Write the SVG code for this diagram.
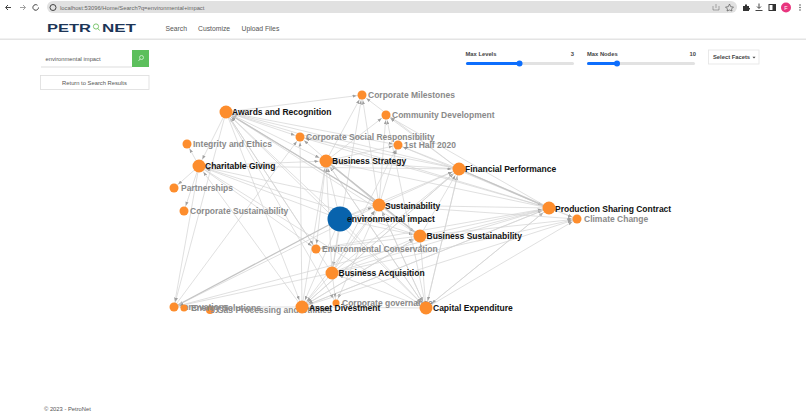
<svg xmlns="http://www.w3.org/2000/svg" width="806" height="419" viewBox="0 0 806 419">
<style>
text{font-family:"Liberation Sans",Arial,sans-serif}
.ui{font-size:6.800px;fill:#555}
.sm{font-size:5.800px;fill:#555}
.hd{font-size:5.800px;font-weight:bold;fill:#444}
.lb{font-size:8.500px;font-weight:bold;fill:#111}
.ls{font-size:8.500px;font-weight:bold;fill:#8a8a8a}
.n{fill:#fd8d2d}
#edges line{stroke:#d2d2d2;stroke-width:.7;fill:none}
#edges .h line{stroke:#c4c4c4;stroke-width:1.200}
.t7{marker-end:url(#a7)}
.t4{marker-end:url(#a4)}
.ic{fill:none;stroke:#444;stroke-width:1}
</style>
<defs>
<marker id="a7" markerUnits="userSpaceOnUse" markerWidth="4" markerHeight="3.200" refX="11.500" refY="1.600" orient="auto"><path d="M0 0L4 1.600L0 3.200z" fill="#a0a0a0"/></marker>
<marker id="a4" markerUnits="userSpaceOnUse" markerWidth="4" markerHeight="3.200" refX="9.500" refY="1.600" orient="auto"><path d="M0 0L4 1.600L0 3.200z" fill="#a0a0a0"/></marker>
</defs>
<rect width="806" height="419" fill="#fff"/>
<g id="browser">
<rect x="47" y="1" width="690" height="12" rx="6" fill="#e1e1e1"/>
<path class="ic" d="M11 7.500H6M8 5L5.500 7.500L8 10"/>
<path class="ic" stroke-opacity=".5" d="M20 7.500H25M23 5L25.500 7.500L23 10"/>
<path class="ic" d="M38.500 7.500A2.800 2.800 0 1 1 37.500 5.300"/>
<circle cx="53" cy="7.500" r="3" class="ic" stroke-width=".7"/>
<text x="60" y="9.500" font-size="5.800" fill="#666">localhost:53096/Home/Search?q=environmental+impact</text>
<path class="ic" stroke-opacity=".4" d="M713 6V10H719V6M716 8V4"/>
<path class="ic" stroke-opacity=".6" stroke-width=".8" d="M729.500 4L730.800 6.800L733.500 7L731.500 9L732 11L729.500 10L727 11L727.500 9L725.500 7L728.200 6.800z"/>
<path d="M743 6H745V4.500H747V6H749V8H750V9.500H749V11H743z" fill="#333"/>
<path class="ic" d="M759 3.500V8M757 6.500L759 8.500L761 6.500M755.500 10.500H762.500"/>
<rect x="769" y="4.500" width="6.500" height="6" fill="none" stroke="#333"/><rect x="772.500" y="4.500" width="3" height="6" fill="#333"/>
<circle cx="786" cy="7.500" r="5" fill="#e8357e"/><text x="786" y="9.500" font-size="5.500" fill="#fff" text-anchor="middle">F</text>
<circle cx="800" cy="5" r=".7" fill="#333"/><circle cx="800" cy="7.500" r=".7" fill="#333"/><circle cx="800" cy="10" r=".7" fill="#333"/>
</g>
<g id="header">
<rect x="0" y="38.500" width="806" height="1.500" fill="#e4e4e4"/>
<text x="47" y="32" font-size="10.500" font-weight="bold" fill="#1d3557" textLength="44" lengthAdjust="spacingAndGlyphs">PETR</text>
<circle cx="96" cy="26.500" r="2.600" fill="none" stroke="#6fbf60" stroke-width=".9"/><path d="M98 28.500L99.500 30.500" stroke="#6fbf60"/>
<text x="102" y="32" font-size="10.500" font-weight="bold" fill="#1d3557" textLength="34" lengthAdjust="spacingAndGlyphs">NET</text>
<text x="165.500" y="31" class="ui">Search</text>
<text x="198" y="31" class="ui">Customize</text>
<text x="241.500" y="31" class="ui">Upload Files</text>
</g>
<g id="controls">
<path d="M41 67H132" stroke="#ddd"/>
<text x="45.500" y="61" class="sm">environmental impact</text>
<rect x="132" y="50" width="17" height="17" fill="#5cbf5c"/>
<circle cx="141.500" cy="57.500" r="2" fill="none" stroke="#d8f2d8" stroke-width=".8"/><path d="M140 59L138.500 61" stroke="#d8f2d8" stroke-width=".8"/>
<rect x="40.500" y="75.500" width="108.500" height="14" fill="#fff" stroke="#ddd" stroke-width=".8"/>
<text x="94.500" y="84.500" class="sm" text-anchor="middle">Return to Search Results</text>
<text x="465.500" y="56" class="hd">Max Levels</text>
<text x="574" y="56" class="hd" text-anchor="end">3</text>
<rect x="466" y="62" width="108" height="3" rx="1.500" fill="#e2e2e2"/>
<rect x="466" y="62" width="54" height="3" rx="1.500" fill="#0d6efd"/>
<circle cx="519.500" cy="63.500" r="3" fill="#0d6efd"/>
<text x="587" y="56" class="hd">Max Nodes</text>
<text x="696" y="56" class="hd" text-anchor="end">10</text>
<rect x="587" y="62" width="108" height="3" rx="1.500" fill="#e2e2e2"/>
<rect x="587" y="62" width="30" height="3" rx="1.500" fill="#0d6efd"/>
<circle cx="617" cy="63.500" r="3" fill="#0d6efd"/>
<rect x="708.500" y="50" width="50.500" height="14" fill="#fff" stroke="#e4e4e4" stroke-width=".8"/>
<text x="713" y="59" class="hd">Select Facets</text>
<path d="M752.500 56.800h3l-1.500 1.600z" fill="#444"/>
</g>
<g id="edges">
<g class="t7">
<line x1="226" y1="112" x2="326" y2="161"/><line x1="226" y1="112" x2="199" y2="166"/>
<line x1="459" y1="169" x2="226" y2="112"/><line x1="379" y1="205" x2="226" y2="112"/><line x1="420" y1="236" x2="226" y2="112"/><line x1="549" y1="208" x2="226" y2="112"/><line x1="426" y1="308" x2="226" y2="112"/><line x1="332" y1="273" x2="226" y2="112"/>
<line x1="459" y1="169" x2="326" y2="161"/><line x1="379" y1="205" x2="326" y2="161"/><line x1="420" y1="236" x2="326" y2="161"/><line x1="549" y1="208" x2="326" y2="161"/><line x1="426" y1="308" x2="326" y2="161"/><line x1="332" y1="273" x2="326" y2="161"/><line x1="302" y1="307" x2="326" y2="161"/><line x1="199" y1="166" x2="326" y2="161"/>
<line x1="379" y1="205" x2="459" y2="169"/><line x1="420" y1="236" x2="459" y2="169"/><line x1="332" y1="273" x2="459" y2="169"/><line x1="302" y1="307" x2="459" y2="169"/><line x1="426" y1="308" x2="459" y2="169"/><line x1="199" y1="166" x2="459" y2="169"/>
<line x1="420" y1="236" x2="199" y2="166"/><line x1="379" y1="205" x2="199" y2="166"/><line x1="302" y1="307" x2="199" y2="166"/>
<line x1="332" y1="273" x2="379" y2="205"/><line x1="302" y1="307" x2="379" y2="205"/><line x1="426" y1="308" x2="379" y2="205"/><line x1="549" y1="208" x2="379" y2="205"/>
<line x1="420" y1="236" x2="549" y2="208"/><line x1="332" y1="273" x2="549" y2="208"/><line x1="302" y1="307" x2="549" y2="208"/><line x1="426" y1="308" x2="549" y2="208"/><line x1="316" y1="249" x2="549" y2="208"/><line x1="459" y1="169" x2="549" y2="208"/>
<line x1="332" y1="273" x2="420" y2="236"/><line x1="302" y1="307" x2="420" y2="236"/><line x1="426" y1="308" x2="420" y2="236"/><line x1="379" y1="205" x2="420" y2="236"/>
<line x1="426" y1="308" x2="332" y2="273"/>
<line x1="226" y1="112" x2="302" y2="307"/><line x1="420" y1="236" x2="302" y2="307"/><line x1="459" y1="169" x2="302" y2="307"/><line x1="549" y1="208" x2="302" y2="307"/><line x1="332" y1="273" x2="302" y2="307"/><line x1="340" y1="219" x2="302" y2="307"/><line x1="426" y1="308" x2="302" y2="307"/>
<line x1="326" y1="161" x2="426" y2="308"/><line x1="379" y1="205" x2="426" y2="308"/><line x1="459" y1="169" x2="426" y2="308"/><line x1="549" y1="208" x2="426" y2="308"/><line x1="340" y1="219" x2="426" y2="308"/><line x1="199" y1="166" x2="426" y2="308"/>
<line x1="340" y1="219" x2="379" y2="205"/><line x1="340" y1="219" x2="326" y2="161"/><line x1="340" y1="219" x2="420" y2="236"/><line x1="340" y1="219" x2="332" y2="273"/><line x1="340" y1="219" x2="459" y2="169"/><line x1="340" y1="219" x2="226" y2="112"/><line x1="340" y1="219" x2="199" y2="166"/>
</g>
<g class="t4">
<line x1="226" y1="112" x2="362" y2="95"/><line x1="326" y1="161" x2="362" y2="95"/><line x1="379" y1="205" x2="362" y2="95"/><line x1="459" y1="169" x2="362" y2="95"/><line x1="332" y1="273" x2="362" y2="95"/>
<line x1="326" y1="161" x2="386" y2="115"/><line x1="379" y1="205" x2="386" y2="115"/><line x1="459" y1="169" x2="386" y2="115"/><line x1="426" y1="308" x2="386" y2="115"/><line x1="549" y1="208" x2="386" y2="115"/>
<line x1="226" y1="112" x2="300" y2="137"/><line x1="459" y1="169" x2="300" y2="137"/><line x1="379" y1="205" x2="300" y2="137"/><line x1="549" y1="208" x2="300" y2="137"/><line x1="302" y1="307" x2="300" y2="137"/><line x1="174" y1="307" x2="300" y2="137"/>
<line x1="226" y1="112" x2="398" y2="145"/><line x1="326" y1="161" x2="398" y2="145"/><line x1="379" y1="205" x2="398" y2="145"/><line x1="459" y1="169" x2="398" y2="145"/><line x1="332" y1="273" x2="398" y2="145"/><line x1="549" y1="208" x2="398" y2="145"/>
<line x1="199" y1="166" x2="187" y2="144"/>
<line x1="199" y1="166" x2="174" y2="188"/>
<line x1="199" y1="166" x2="184" y2="211"/>
<line x1="226" y1="112" x2="316" y2="249"/><line x1="199" y1="166" x2="316" y2="249"/><line x1="326" y1="161" x2="316" y2="249"/><line x1="420" y1="236" x2="316" y2="249"/>
<line x1="332" y1="273" x2="336" y2="303"/><line x1="226" y1="112" x2="336" y2="303"/><line x1="379" y1="205" x2="336" y2="303"/>
<line x1="199" y1="166" x2="174" y2="307"/><line x1="226" y1="112" x2="174" y2="307"/><line x1="332" y1="273" x2="174" y2="307"/><line x1="549" y1="208" x2="174" y2="307"/><line x1="379" y1="205" x2="174" y2="307"/><line x1="302" y1="307" x2="174" y2="307"/>
<line x1="459" y1="169" x2="577" y2="219"/><line x1="420" y1="236" x2="577" y2="219"/><line x1="332" y1="273" x2="577" y2="219"/><line x1="426" y1="308" x2="577" y2="219"/><line x1="379" y1="205" x2="577" y2="219"/><line x1="302" y1="307" x2="577" y2="219"/><line x1="549" y1="208" x2="577" y2="219"/>
</g>
<g class="h">
<line x1="226" y1="112" x2="379" y2="205"/><line x1="326" y1="161" x2="420" y2="236"/><line x1="459" y1="169" x2="549" y2="208"/><line x1="174" y1="307" x2="340" y2="219"/>
</g>
</g>
<g id="n-impact"><circle cx="340" cy="219" r="12.500" fill="#0863ad"/><text x="347" y="222" class="lb">environmental impact</text></g>
<g id="n-milestones"><circle class="n" cx="362" cy="95" r="4.500"/><text x="368" y="98" class="ls">Corporate Milestones</text></g>
<g id="n-community"><circle class="n" cx="386" cy="115" r="4.500"/><text x="392" y="118" class="ls">Community Development</text></g>
<g id="n-csr"><circle class="n" cx="300" cy="137" r="4.500"/><text x="306" y="140" class="ls">Corporate Social Responsibility</text></g>
<g id="n-half"><circle class="n" cx="398" cy="145" r="4.500"/><text x="404" y="148" class="ls">1st Half 2020</text></g>
<g id="n-integrity"><circle class="n" cx="187" cy="144" r="4.500"/><text x="193" y="147" class="ls">Integrity and Ethics</text></g>
<g id="n-partnerships"><circle class="n" cx="174" cy="188" r="4.500"/><text x="181" y="191" class="ls">Partnerships</text></g>
<g id="n-corpsust"><circle class="n" cx="184" cy="211" r="4.500"/><text x="190" y="214" class="ls">Corporate Sustainability</text></g>
<g id="n-climate"><circle class="n" cx="577" cy="219" r="4.500"/><text x="584" y="222" class="ls">Climate Change</text></g>
<g id="n-envcons"><circle class="n" cx="316" cy="249" r="4.500"/><text x="322" y="252" class="ls">Environmental Conservation</text></g>
<g id="n-gas"><circle class="n" cx="210" cy="310" r="4"/><text x="217" y="313" class="ls">Gas Processing and Utilities</text></g>
<g id="n-innov"><circle class="n" cx="174" cy="307" r="4.500"/><text x="181" y="310" class="ls">Innovations</text></g>
<g id="n-energy"><circle class="n" cx="184" cy="308" r="3.500"/><text x="191" y="311" class="ls">Energy Solutions</text></g>
<g id="n-gov"><circle class="n" cx="336" cy="303" r="3.500"/><text x="342" y="306" class="ls">Corporate governance</text></g>
<g id="n-awards"><circle class="n" cx="226" cy="112" r="6.500"/><text x="232" y="115" class="lb">Awards and Recognition</text></g>
<g id="n-strategy"><circle class="n" cx="326" cy="161" r="6.500"/><text x="332" y="164" class="lb">Business Strategy</text></g>
<g id="n-financial"><circle class="n" cx="459" cy="169" r="6.500"/><text x="465" y="172" class="lb">Financial Performance</text></g>
<g id="n-charitable"><circle class="n" cx="199" cy="166" r="6.500"/><text x="205" y="169" class="lb">Charitable Giving</text></g>
<g id="n-sustainability"><circle class="n" cx="379" cy="205" r="6.500"/><text x="385" y="209" class="lb">Sustainability</text></g>
<g id="n-psc"><circle class="n" cx="549" cy="208" r="6.500"/><text x="555" y="212" class="lb">Production Sharing Contract</text></g>
<g id="n-bsust"><circle class="n" cx="420" cy="236" r="6.500"/><text x="426.500" y="239" class="lb">Business Sustainability</text></g>
<g id="n-bacq"><circle class="n" cx="332" cy="273" r="6.500"/><text x="338.500" y="276" class="lb">Business Acquisition</text></g>
<g id="n-asset"><circle class="n" cx="302" cy="307" r="6.500"/><text x="309" y="311" class="lb">Asset Divestment</text></g>
<g id="n-capex"><circle class="n" cx="426" cy="308" r="6.500"/><text x="433" y="311" class="lb">Capital Expenditure</text></g>
<text x="44" y="411" class="sm">© 2023 - PetroNet</text>
</svg>
